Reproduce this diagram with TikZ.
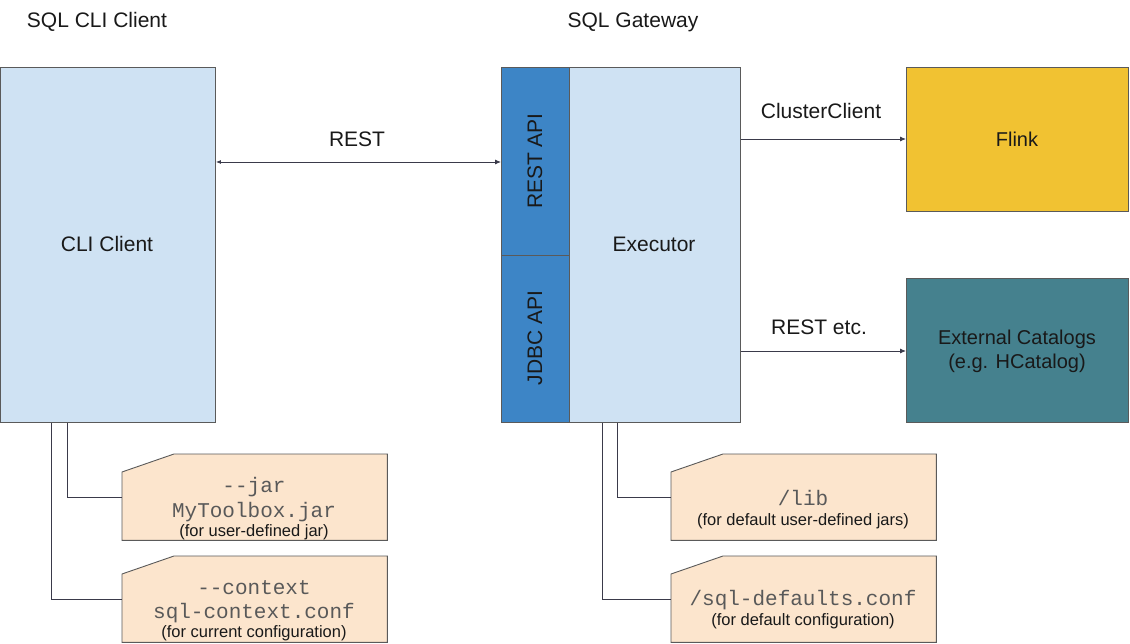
\documentclass[tikz,border=0pt]{standalone}
\usepackage{fontspec}
\setmainfont{Liberation Sans}
\setmonofont{Liberation Mono}
\usetikzlibrary{arrows.meta,calc}
\definecolor{lightblue}{HTML}{CFE2F3}
\definecolor{apiblue}{HTML}{3D85C6}
\definecolor{flinkyellow}{HTML}{F1C232}
\definecolor{catteal}{HTML}{45818E}
\definecolor{notefill}{HTML}{FCE5CD}
\definecolor{edgegray}{HTML}{5A5A5A}
\definecolor{linedark}{HTML}{3A3A4A}
\tikzset{
  box/.style={draw=edgegray, line width=0.9pt, minimum width=#1, inner sep=0pt, anchor=north west},
  boxtext/.style={font=\fontsize{21}{24}\selectfont, text=black!90},
  notebox/.style={minimum width=265pt, minimum height=86pt, inner sep=0pt, anchor=north west},
  noteshape/.style={draw=edgegray, line width=0.9pt, fill=notefill},
  monotext/.style={font=\ttfamily\fontsize{21}{24}\selectfont, text=black!65},
  smalltext/.style={font=\fontsize{16.5}{19}\selectfont, text=black!90},
  conn/.style={draw=linedark, line width=0.9pt},
  arr/.style={conn, -{Latex[length=6pt,width=5pt]}},
  biarr/.style={conn, {Latex[length=5pt,width=4pt]}-{Latex[length=6pt,width=5pt]}},
  title/.style={font=\fontsize{21}{24}\selectfont, text=black!90},
}
\begin{document}
\begin{tikzpicture}[x=1pt,y=-1pt]
\useasboundingbox (0,0) rectangle (1130,644);
\fill[white] (0,0) rectangle (1130,644);

% titles
\node[title] (t1) at (97,22) {SQL CLI Client};
\node[title] (t2) at (633,22) {SQL Gateway};

% main boxes
\node[box=215pt, minimum height=355pt, fill=lightblue] (cli) at (0,67) {};
\node[boxtext] (clitext) at (107,244) {CLI Client};

\node[box=171pt, minimum height=355pt, fill=lightblue] (exec) at (569,67) {};
\node[boxtext] (exectext) at (654,244) {Executor};

\node[box=68pt, minimum height=188pt, fill=apiblue] (restapi) at (501,67) {};
\node[boxtext, rotate=90] (restapitext) at (535,161) {REST API};
\node[box=68pt, minimum height=167pt, fill=apiblue] (jdbcapi) at (501,255) {};
\node[boxtext, rotate=90] (jdbcapitext) at (535,338) {JDBC API};

\node[box=222pt, minimum height=144pt, fill=flinkyellow] (flink) at (906,67) {};
\node[boxtext, font=\fontsize{20}{23}\selectfont] (flinktext) at (1017,139) {Flink};

\node[box=222pt, minimum height=144pt, fill=catteal] (cat) at (906,278) {};
\node[boxtext, font=\fontsize{20}{24}\selectfont, align=center] (cattext) at (1017,351) {External Catalogs\\(e.g. HCatalog)};

% arrows
\coordinate (restL) at (cli.east |- 0,162);
\coordinate (restR) at (restapi.west |- 0,162);
\draw[biarr] (restL) -- (restR);
\node[title] (restlbl) at (357,139) {REST};

\coordinate (ccL) at (exec.east |- 0,139);
\coordinate (ccR) at (flink.west |- 0,139);
\draw[arr] (ccL) -- (ccR);
\node[title] (cclbl) at (821,111) {ClusterClient};

\coordinate (reL) at (exec.east |- 0,351);
\coordinate (reR) at (cat.west |- 0,351);
\draw[arr] (reL) -- (reR);
\node[title] (relbl) at (819,327) {REST etc.};

% notes
\node[notebox] (n1) at (122,454) {};
\node[notebox] (n2) at (122,556) {};
\node[notebox] (n3) at (671,454) {};
\node[notebox] (n4) at (671,556) {};
\foreach \n in {n1,n2,n3,n4}{
  \draw[noteshape] (\n.south west) -- ($(\n.north west)+(0,18)$) -- ($(\n.north west)+(52,0)$) -- (\n.north east) -- (\n.south east) -- cycle;
}

\node[monotext] (n1a) at (254,487) {-{}-jar};
\node[monotext] (n1b) at (254,512) {MyToolbox.jar};
\node[smalltext] (n1c) at (254,532) {(for user-defined jar)};

\node[monotext] (n2a) at (254,588) {-{}-context};
\node[monotext] (n2b) at (254,613) {sql-context.conf};
\node[smalltext] (n2c) at (254,633) {(for current configuration)};

\node[monotext] (n3a) at (803,498) {/lib};
\node[smalltext] (n3b) at (803,521) {(for default user-defined jars)};

\node[monotext] (n4a) at (803,600) {/sql-defaults.conf};
\node[smalltext] (n4b) at (803,621) {(for default configuration)};

% connectors to notes
\coordinate (c1) at ($(cli.south west)+(67,0)$);
\coordinate (c2) at ($(cli.south west)+(51,0)$);
\draw[conn] (c1) |- (n1.west);
\draw[conn] (c2) |- (n2.west);
\coordinate (c3) at ($(exec.south west)+(48,0)$);
\coordinate (c4) at ($(exec.south west)+(33,0)$);
\draw[conn] (c3) |- (n3.west);
\draw[conn] (c4) |- (n4.west);
\end{tikzpicture}
\end{document}
